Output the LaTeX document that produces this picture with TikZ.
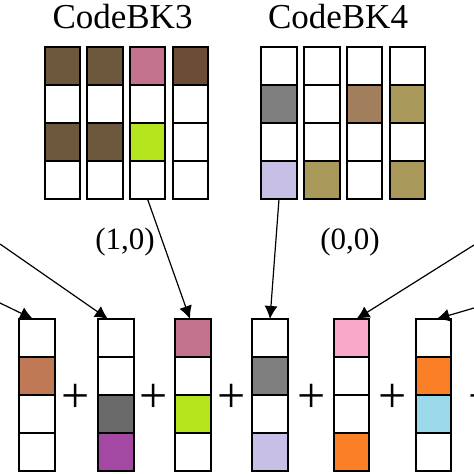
\documentclass[tikz,border=0pt]{standalone}
\usepackage{fontspec}
\setmainfont{Liberation Serif}
\usepackage{tikz}
\usetikzlibrary{arrows.meta, positioning}

\definecolor{bkbrown}{HTML}{6A573C}
\definecolor{bkdark}{HTML}{6B4C36}
\definecolor{mauve}{HTML}{C4738F}
\definecolor{lime}{HTML}{B5E61D}
\definecolor{midgray}{HTML}{7F7F7F}
\definecolor{darkgray}{HTML}{6A6A6A}
\definecolor{lavender}{HTML}{C8BFE7}
\definecolor{olive}{HTML}{A99A5C}
\definecolor{tan}{HTML}{A27F5C}
\definecolor{terra}{HTML}{BF7A55}
\definecolor{plum}{HTML}{A349A4}
\definecolor{rose}{HTML}{F7A8C8}
\definecolor{carrot}{HTML}{FA7F27}
\definecolor{sky}{HTML}{99D9EA}

\begin{document}
\begin{tikzpicture}[
  x=1pt, y=-1pt,
  font=\fontsize{35}{40}\selectfont,
  cell/.style={rectangle, draw, line width=1.8pt, outer sep=0pt, inner sep=0pt, minimum width=35.5pt, minimum height=38pt},
  flow/.style={-{Latex[length=13pt, width=13pt]}, line width=1.2pt},
  sign/.style={font=\fontsize{50}{55}\selectfont, inner sep=0pt},
  pair/.style={font=\fontsize{31}{36}\selectfont}
]
\useasboundingbox (0,0) rectangle (474,474);

% codebook columns and sum columns
\foreach \id/\x/\y/\ca/\cb/\cc/\cd in {
  bk3a/62.5/66/bkbrown/white/bkbrown/white,
  bk3b/105/66/bkbrown/white/bkbrown/white,
  bk3c/147.5/66/mauve/white/lime/white,
  bk3d/190.5/66/bkdark/white/white/white,
  bk4a/279/66/white/midgray/white/lavender,
  bk4b/322/66/white/white/white/olive,
  bk4c/364.5/66/white/tan/white/white,
  bk4d/407.5/66/white/olive/white/olive,
  sA/37/338/white/terra/white/white,
  sB/116/338/white/white/darkgray/plum,
  sC/193/338/mauve/white/lime/white,
  sD/270/338/white/midgray/white/lavender,
  sE/351.5/338/rose/white/white/carrot,
  sF/433.5/338/white/carrot/sky/white} {
  \node (\id-1) [cell, fill=\ca] at (\x,\y) {};
  \node (\id-2) [cell, fill=\cb, below=0pt of \id-1] {};
  \node (\id-3) [cell, fill=\cc, below=0pt of \id-2] {};
  \node (\id-4) [cell, fill=\cd, below=0pt of \id-3] {};
}

\node (bk3) [anchor=base] at (122.5,28) {CodeBK3};
\node (bk4) [anchor=base] at (338,28) {CodeBK4};
\node (pair3) [pair] at (125,242) {(1,0)};
\node (pair4) [pair] at (350,242) {(0,0)};

\foreach \x [count=\i] in {76,154,232,312,393,483}
  \node (plus\i) [sign] at (\x,398) {+};

\coordinate (inA) at (0,303);
\coordinate (inB) at (0,244);
\coordinate (inE) at (474,245);
\coordinate (inF) at (474,308);

\draw [flow] (inA) -- ([xshift=-4pt]sA-1.north);
\draw [flow] (inB) -- ([xshift=-8pt]sB-1.north);
\draw [flow] (bk3c-4.south) -- ([xshift=-3pt]sC-1.north);
\draw [flow] (bk4a-4.south) -- (sD-1.north);
\draw [flow] (inE) -- ([xshift=5pt]sE-1.north);
\draw [flow] (inF) -- ([xshift=3pt]sF-1.north);
\end{tikzpicture}
\end{document}
